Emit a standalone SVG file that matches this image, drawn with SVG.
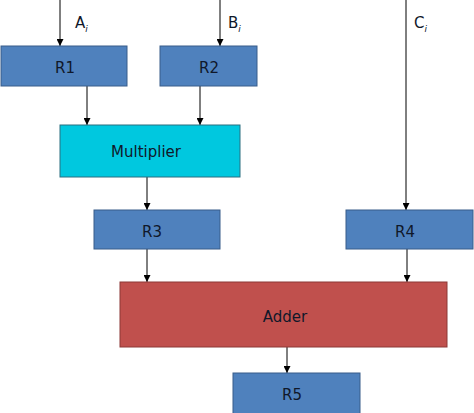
<svg xmlns="http://www.w3.org/2000/svg" width="474" height="413" viewBox="0 0 474 413">
<defs>
<marker id="ah" viewBox="0 0 10 10" refX="10" refY="5" markerWidth="7" markerHeight="7" markerUnits="userSpaceOnUse" orient="auto"><path d="M0,0 L10,5 L0,10 z" fill="#000"/></marker>
<style>
.reg{fill:#4F81BD;stroke:#385D8A;stroke-width:1}
.mul{fill:#00C8DF;stroke:#2A6F80;stroke-width:1}
.add{fill:#C0504D;stroke:#8C3836;stroke-width:1}
.t{font-family:"DejaVu Sans",Verdana,sans-serif;font-size:15px;fill:#10182a;text-anchor:middle}
.lbl{font-family:"DejaVu Sans",Verdana,sans-serif;font-size:15px;fill:#10182a}
.sub{font-family:"DejaVu Sans",Verdana,sans-serif;font-size:9px;font-style:italic;fill:#10182a}
.c line{stroke:#000;stroke-width:1;marker-end:url(#ah)}
</style>
</defs>
<rect width="474" height="413" fill="#fff"/>
<g class="c" id="connectors">
<line x1="60" y1="0" x2="60" y2="46"/>
<line x1="220" y1="0" x2="220" y2="46"/>
<line x1="87" y1="86" x2="87" y2="125"/>
<line x1="200" y1="86" x2="200" y2="125"/>
<line x1="147" y1="177" x2="147" y2="210"/>
<line x1="406" y1="0" x2="406" y2="210"/>
<line x1="147" y1="249" x2="147" y2="282"/>
<line x1="407" y1="249" x2="407" y2="282"/>
<line x1="287" y1="347" x2="287" y2="373"/>
</g>
<g id="labels">
<text class="lbl" x="75" y="28">A<tspan class="sub" dy="4">i</tspan></text>
<text class="lbl" x="228" y="28">B<tspan class="sub" dy="4">i</tspan></text>
<text class="lbl" x="414" y="28">C<tspan class="sub" dy="4">i</tspan></text>
</g>
<g id="R1"><rect class="reg" x="1" y="46" width="126" height="40"/><text class="t" x="65" y="73">R1</text></g>
<g id="R2"><rect class="reg" x="160" y="46" width="97" height="40"/><text class="t" x="209" y="73">R2</text></g>
<g id="Multiplier"><rect class="mul" x="60" y="125" width="180" height="52"/><text class="t" x="146" y="157">Multiplier</text></g>
<g id="R3"><rect class="reg" x="94" y="210" width="126" height="39"/><text class="t" x="152" y="237">R3</text></g>
<g id="R4"><rect class="reg" x="346" y="210" width="127" height="39"/><text class="t" x="405" y="237">R4</text></g>
<g id="Adder"><rect class="add" x="120" y="282" width="327" height="65"/><text class="t" x="285" y="322">Adder</text></g>
<g id="R5"><rect class="reg" x="233" y="373" width="127" height="42"/><text class="t" x="292" y="400">R5</text></g>
</svg>
